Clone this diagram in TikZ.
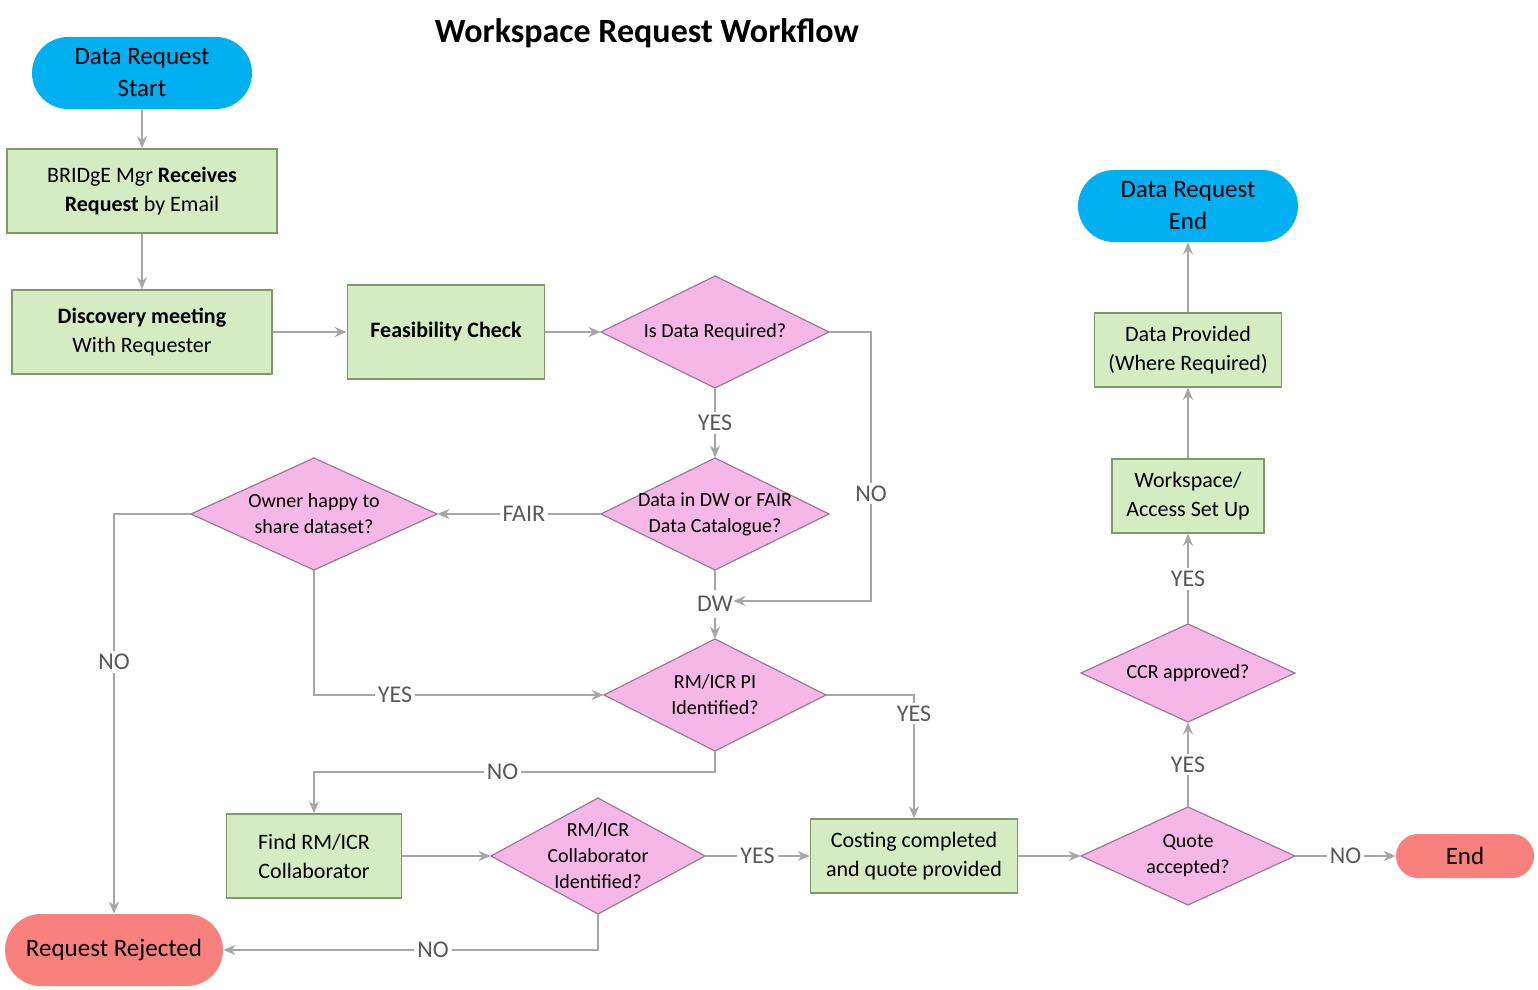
\documentclass[tikz,border=0pt]{standalone}
\usepackage{fontspec}
\setmainfont{Carlito}
\usetikzlibrary{shapes.geometric,shapes.misc,arrows.meta}
\definecolor{gfill}{HTML}{D5EBC2}
\definecolor{gdraw}{HTML}{7F9A6A}
\definecolor{pfill}{HTML}{F5B8E6}
\definecolor{pdraw}{HTML}{9A7A94}
\definecolor{cyanf}{HTML}{00B0F0}
\definecolor{redf}{HTML}{F8817E}
\definecolor{lgray}{HTML}{A6A6A6}
\definecolor{tgray}{HTML}{595959}
\newcommand{\mydia}[6]{%
 \fill[pfill,draw=pdraw,line width=0.6pt] (#2-#4/2,#3) -- (#2,#3-#5/2) -- (#2+#4/2,#3) -- (#2,#3+#5/2) -- cycle;
 \node[diatext,minimum width=#4*0.5pt,minimum height=#5*0.5pt] (#1) at (#2,#3) {#6};}
\begin{document}
\begin{tikzpicture}[x=0.5pt,y=-0.5pt,
 box/.style={draw=gdraw,fill=gfill,line width=0.8pt,align=center,inner sep=0pt,font=\fontsize{11}{14.5}\selectfont},
 diatext/.style={rectangle,align=center,inner sep=0pt,font=\fontsize{10}{13}\selectfont},
 pill/.style={rounded rectangle,fill=#1,align=center,inner sep=0pt,font=\fontsize{12.5}{16}\selectfont},
 lbl/.style={fill=white,text=tgray,inner sep=1.5pt,font=\fontsize{12}{14}\selectfont},
 ar/.style={draw=lgray,line width=0.9pt,-{Stealth[length=6pt,width=5pt]}},
 ln/.style={draw=lgray,line width=0.9pt}]
\useasboundingbox (0,0) rectangle (1538,990);
\node[font=\bfseries\fontsize{17}{20}\selectfont] (title) at (647,33) {Workspace Request Workflow};
\node[pill=cyanf,minimum width=110pt,minimum height=36pt] (start) at (142,73) {Data Request\\Start};
\node[box,minimum width=135pt,minimum height=42pt] (recv) at (142,191) {BRIDgE Mgr \textbf{Receives}\\\textbf{Request} by Email};
\node[box,minimum width=130pt,minimum height=42pt] (disc) at (142,332) {\textbf{Discovery meeting}\\With Requester};
\node[box,minimum width=98.5pt,minimum height=47pt] (feas) at (446,332) {\textbf{Feasibility Check}};
\mydia{isreq}{715}{332}{228}{112}{Is Data Required?}
\mydia{dw}{715}{514}{228}{112}{Data in DW or FAIR\\Data Catalogue?}
\mydia{owner}{314}{514}{246}{112}{Owner happy to\\share dataset?}
\mydia{pi}{715}{695}{222}{112}{RM/ICR PI\\Identified?}
\node[box,minimum width=87.5pt,minimum height=42pt] (find) at (314,856) {Find RM/ICR\\Collaborator};
\mydia{collab}{598}{856}{214}{116}{RM/ICR\\Collaborator\\Identified?}
\node[box,minimum width=103.5pt,minimum height=37pt] (cost) at (914,856) {Costing completed\\and quote provided};
\mydia{quote}{1188}{856}{214}{98}{Quote\\accepted?}
\mydia{ccr}{1188}{673}{214}{98}{CCR approved?}
\node[box,minimum width=76pt,minimum height=37pt] (ws) at (1188,496) {Workspace/\\Access Set Up};
\node[box,minimum width=93.5pt,minimum height=37pt] (dp) at (1188,350) {Data Provided\\(Where Required)};
\node[pill=cyanf,minimum width=110pt,minimum height=36pt] (endq) at (1188,206) {Data Request\\End};
\node[pill=redf,minimum width=69pt,minimum height=22pt] (end) at (1465,856) {End};
\node[pill=redf,minimum width=109pt,minimum height=36pt] (rej) at (114,950) {Request Rejected};
\node[lbl,inner sep=3pt] (dwl) at (715,604) {DW};
\coordinate (c1) at (871,332); \coordinate (c2) at (871,601);
\coordinate (c3) at (114,514); \coordinate (c4) at (314,695);
\coordinate (c5) at (914,695); \coordinate (c6) at (715,772);
\coordinate (c7) at (314,772); \coordinate (c8) at (598,950);
\draw[ar] (start) -- (recv);
\draw[ar] (recv) -- (disc);
\draw[ar] (disc) -- (feas);
\draw[ar] (feas) -- (isreq.west);
\draw[ar] (isreq.south) -- node[lbl]{YES} (dw.north);
\draw[ar] (isreq.east) -- (c1) -- node[lbl,pos=0.6]{NO} (c2) -- ([xshift=-3pt]c2 -| dwl.east);
\draw[ln] (dw.south) -- (dwl.north);
\draw[ar] (dwl.south) -- (pi.north);
\draw[ar] (dw.west) -- node[lbl,pos=0.47]{FAIR} (owner.east);
\draw[ar] (owner.west) -- (c3) -- node[lbl,pos=0.37]{NO} (rej.north);
\draw[ar] (owner.south) -- (c4) -- node[lbl,pos=0.28]{YES} (pi.west);
\draw[ar] (pi.east) -- (c5) -- node[lbl,pos=0.15]{YES} (cost.north);
\draw[ar] (pi.south) -- (c6) -- node[lbl,pos=0.53]{NO} (c7) -- (find.north);
\draw[ar] (find) -- (collab.west);
\draw[ar] (collab.east) -- node[lbl]{YES} (cost.west);
\draw[ar] (collab.south) -- (c8) -- node[lbl,pos=0.44]{NO} (rej.east);
\draw[ar] (cost) -- (quote.west);
\draw[ar] (quote.east) -- node[lbl]{NO} (end.west);
\draw[ar] (quote.north) -- node[lbl]{YES} (ccr.south);
\draw[ar] (ccr.north) -- node[lbl]{YES} (ws.south);
\draw[ar] (ws) -- (dp);
\draw[ar] (dp) -- (endq);
\end{tikzpicture}
\end{document}
